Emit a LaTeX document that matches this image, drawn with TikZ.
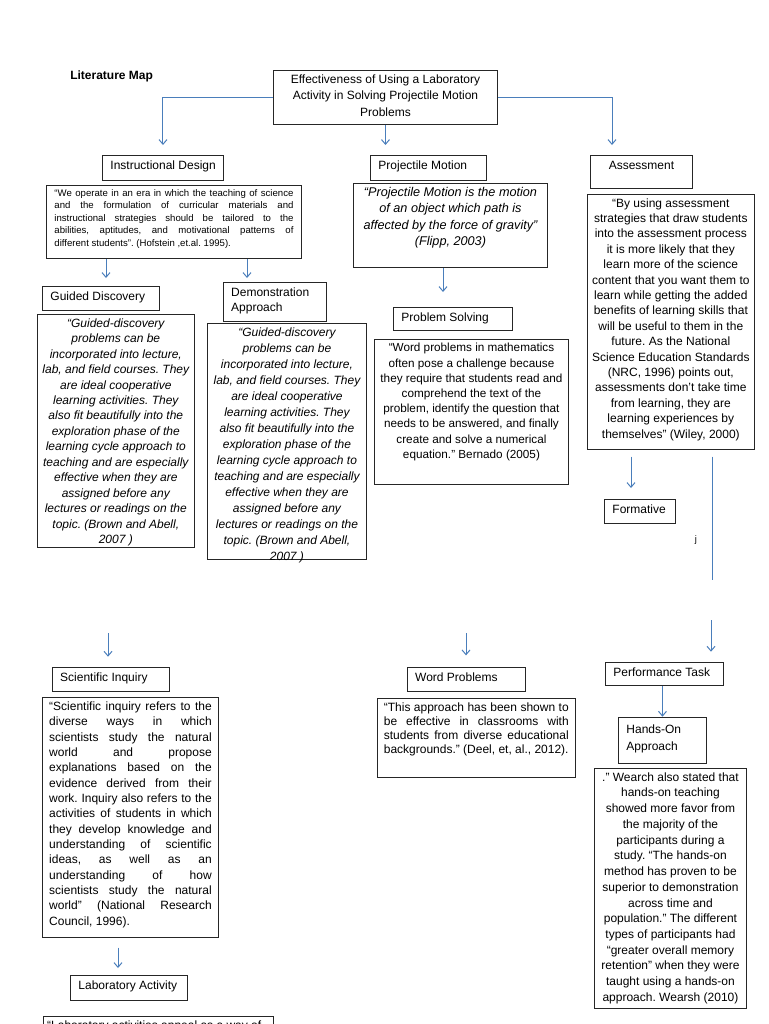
\documentclass[tikz,border=0pt]{standalone}
\usepackage{fontspec}
\setmainfont{Liberation Sans}
\usetikzlibrary{arrows.meta}
\definecolor{linkblue}{HTML}{4A7EBB}
\definecolor{boxline}{HTML}{262626}
\hbadness=10000 \vbadness=10000 \hfuzz=8pt
\frenchspacing
\newlength{\pxu}\setlength{\pxu}{0.75pt}
% box text: width and height of the box in px (inner sep 3pt)
\newcommand{\qtext}[3]{\parbox[t][\dimexpr#2\pxu-6pt\relax][t]{\dimexpr#1\pxu-6pt\relax}{#3}}
% label text: width and height of the box in px (inner xsep 6pt, ysep 3pt)
\newcommand{\ltext}[4][\raggedright]{\parbox[t][\dimexpr#3\pxu-6pt\relax][t]{\dimexpr#2\pxu-12pt\relax}{#1\begin{tabular}[t]{@{}l@{}}#4\end{tabular}}}

\begin{document}
\begin{tikzpicture}[x=0.75pt,y=-0.75pt,
    lbl/.style={draw=boxline,line width=0.7pt,anchor=north west,inner xsep=6pt,inner ysep=3pt,
                font=\fontsize{9}{11}\selectfont},
    quote/.style={draw=boxline,line width=0.7pt,anchor=north west,inner sep=3pt,
                  font=\fontsize{9}{11.6}\selectfont},
    arr/.style={-{Straight Barb[length=3.5pt,width=6pt]},linkblue,line width=0.75pt},
    link/.style={linkblue,line width=0.75pt}]
  \path[use as bounding box,fill=white] (0,0) rectangle (768,1024);

  \node[anchor=west,inner sep=0,font=\bfseries\fontsize{9}{11}\selectfont] (mapname) at (70,76) {Literature Map};
  \node[quote,font=\fontsize{9}{12.4}\selectfont] (title) at (273,70)
    {\qtext{224}{54}{\centering Effectiveness of Using a Laboratory\\Activity in Solving Projectile Motion\\Problems}};

  % first level
  \node[lbl] (idl) at (102,155) {\ltext{121}{25}{Instructional Design}};
  \node[lbl] (pml) at (370,155) {\ltext{116}{25}{Projectile Motion}};
  \node[lbl] (asl) at (590,155) {\ltext[\centering]{102}{33}{Assessment}};

  \node[quote,inner xsep=6pt,font=\fontsize{7.2}{9.3}\selectfont] (idq) at (46,185)
    {\qtext{247}{73}{“We operate in an era in which the teaching of science\linebreak
     and the formulation of curricular materials and\linebreak
     instructional strategies should be tailored to the\linebreak
     abilities, aptitudes, and motivational patterns of\linebreak
     different students”. (Hofstein ,et.al. 1995).}};
  \node[quote,font=\itshape\fontsize{9.5}{12.2}\selectfont] (pmq) at (353,183)
    {\qtext{194}{84}{\centering “Projectile Motion is the motion\\of an object which path is\\
     affected by the force of gravity”\\(Flipp, 2003)}};
  \node[quote,font=\fontsize{9}{11.55}\selectfont] (asq) at (586.7,194)
    {\qtext{167.3}{255}{\centering “By using assessment\\strategies that draw students\\
     into the assessment process\\it is more likely that they\\learn more of the science\\
     content that you want them to\\learn while getting the added\\
     benefits of learning skills that\\will be useful to them in the\\future. As the National\\
     Science Education Standards\\(NRC, 1996) points out,\\assessments don’t take time\\
     from learning, they are\\learning experiences by\\themselves” (Wiley, 2000)}};

  % second level
  \node[lbl] (gdl) at (42,286) {\ltext{117}{24}{Guided Discovery}};
  \node[lbl] (dal) at (222.7,281.7) {\ltext{103.3}{39.3}{Demonstration\\Approach}};
  \node[lbl] (psl) at (393,307) {\ltext{119}{23}{Problem Solving}};

  \node[quote,font=\itshape\fontsize{9}{11.6}\selectfont] (gdq) at (36.7,314)
    {\qtext{157.3}{233}{\centering “Guided-discovery\\problems can be\\incorporated into lecture,\\
     lab, and field courses. They\\are ideal cooperative\\learning activities. They\\
     also fit beautifully into the\\exploration phase of the\\learning cycle approach to\\
     teaching and are especially\\effective when they are\\assigned before any\\
     lectures or readings on the\\topic. (Brown and Abell,\\2007 )}};
  \node[quote,font=\itshape\fontsize{9}{12}\selectfont] (daq) at (207,323)
    {\qtext{159}{236}{\centering “Guided-discovery\\problems can be\\incorporated into lecture,\\
     lab, and field courses. They\\are ideal cooperative\\learning activities. They\\
     also fit beautifully into the\\exploration phase of the\\learning cycle approach to\\
     teaching and are especially\\effective when they are\\assigned before any\\
     lectures or readings on the\\topic. (Brown and Abell,\\2007 )}};
  \node[quote,font=\fontsize{8.8}{11.4}\selectfont] (psq) at (374,339)
    {\qtext{194}{145}{\centering “Word problems in mathematics\\often pose a challenge because\\
     they require that students read and\\comprehend the text of the\\
     problem, identify the question that\\needs to be answered, and finally\\
     create and solve a numerical\\equation.” Bernado (2005)}};

  \node[lbl] (fml) at (604,499) {\ltext{71}{24}{Formative}};
  \node[font=\fontsize{7}{8}\selectfont,inner sep=0] (jmark) at (696,540) {j};

  % third level
  \node[lbl] (sil) at (51.7,666.7) {\ltext{117.6}{24}{Scientific Inquiry}};
  \node[lbl] (wpl) at (406.7,666.7) {\ltext{118.3}{24}{Word Problems}};
  \node[lbl] (ptl) at (605,661.7) {\ltext{118}{23.3}{Performance Task}};
  \node[lbl,font=\fontsize{9}{13}\selectfont] (hol) at (618,716.7) {\ltext{88}{46}{Hands-On\\Approach}};

  \node[quote,inner xsep=5.25pt,font=\fontsize{9}{11.5}\selectfont] (siq) at (41.7,697.3)
    {\qtext{170.6}{239.4}{“Scientific inquiry refers to the\linebreak diverse ways in which\linebreak
     scientists study the natural\linebreak world and propose\linebreak
     explanations based on the\linebreak evidence derived from their\linebreak
     work. Inquiry also refers to the\linebreak activities of students in which\linebreak
     they develop knowledge and\linebreak understanding of scientific\linebreak
     ideas, as well as an\linebreak understanding of how\linebreak
     scientists study the natural\linebreak world” (National Research\linebreak
     Council, 1996).}};
  \node[quote,inner xsep=5pt,font=\fontsize{9}{10.6}\selectfont] (wpq) at (376.7,698.3)
    {\qtext{192.9}{78.4}{“This approach has been shown to\linebreak be effective in classrooms with\linebreak
     students from diverse educational\linebreak backgrounds.” (Deel, et, al., 2012).}};
  \node[quote,font=\fontsize{9}{11.8}\selectfont] (hoq) at (594,768)
    {\qtext{152}{240}{\centering .” Wearch also stated that\\hands-on teaching\\
     showed more favor from\\the majority of the\\participants during a\\
     study. “The hands-on\\method has proven to be\\superior to demonstration\\
     across time and\\population.” The different\\types of participants had\\
     “greater overall memory\\retention” when they were\\taught using a hands-on\\
     approach. Wearsh (2010)}};

  \node[lbl] (lal) at (70,975) {\ltext{117.3}{25}{Laboratory Activity}};
  \node[quote] (laq) at (42.7,1016) {\qtext{230}{60}{“Laboratory activities appeal as a way of}};

  % connectors
  \coordinate (asarr) at (612,145);
  \coordinate (gdarr) at (106,278);
  \coordinate (daarr) at (247,278);
  \coordinate (psarr) at (443,292);
  \coordinate (fmarr) at (631,488);
  \coordinate (asend) at (712.7,580);
  \coordinate (ptstart) at (711,620);
  \coordinate (sistart) at (108,633);
  \coordinate (wpstart) at (466,633);
  \coordinate (laarr) at (118,968);
  \draw[arr,shorten >=7.5pt] (title.west) -| (idl.north);
  \draw[arr,shorten >=7.5pt] (title.south) -- (title.south |- pml.north);
  \draw[arr] (title.east) -| (asarr);
  \draw[arr] (idq.south -| gdarr) -- (gdarr);
  \draw[arr] (idq.south -| daarr) -- (daarr);
  \draw[arr] (pmq.south -| psarr) -- (psarr);
  \draw[arr] ([yshift=-5pt]asq.south -| fmarr) -- (fmarr);
  \draw[link] ([yshift=-5pt]asq.south -| asend) -- (asend);
  \draw[arr,shorten >=7.5pt] (ptstart) -- (ptstart |- ptl.north);
  \draw[arr] (ptl.south -| hol.north) -- (hol.north);
  \draw[arr,shorten >=7.5pt] (sistart) -- (sistart |- sil.north);
  \draw[arr,shorten >=8.5pt] (wpstart) -- (wpstart |- wpl.north);
  \draw[arr] ([yshift=-7.5pt]siq.south -| laarr) -- (laarr);
\end{tikzpicture}
\end{document}
